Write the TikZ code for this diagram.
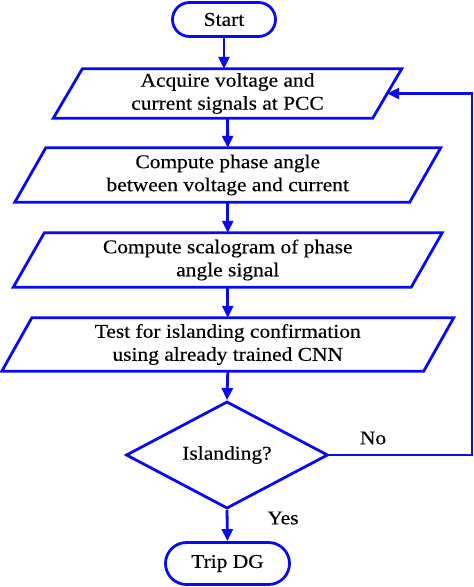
\documentclass[tikz,border=0pt]{standalone}
\usepackage{fontspec}
\setmainfont{Liberation Serif}[FakeStretch=1.1,FakeBold=0.3]
\usetikzlibrary{shapes.geometric,shapes.misc,arrows.meta}
\definecolor{fblue}{RGB}{10,10,240}
\begin{document}
\begin{tikzpicture}[x=1pt,y=1pt,
  every node/.style={font=\fontsize{19.5}{23}\selectfont, text=black, inner sep=0pt},
  flow/.style={draw=fblue, line width=2.8pt, -{Triangle[length=12pt,width=11pt]}},
  edge/.style={draw=fblue, line width=2.8pt, line join=miter},
  term/.style={rounded rectangle, draw=fblue, line width=2.8pt},
  boxtext/.style={rectangle, align=center},
  decision/.style={diamond, draw=fblue, line width=2.8pt, line join=miter}
]
\useasboundingbox (0,0) rectangle (474,-587);

\node[term, minimum width=103pt, minimum height=34pt] (start) at (224,-19.5) {Start};

\node[boxtext, minimum width=319pt, minimum height=49pt] (b1) at (227.5,-93.5) {Acquire voltage and\\current signals at PCC};
\draw[edge] ([xshift=14.5pt]b1.north west) -- ([xshift=14.5pt]b1.north east) -- ([xshift=-14.5pt]b1.south east) -- ([xshift=-14.5pt]b1.south west) -- cycle;

\node[boxtext, minimum width=394.5pt, minimum height=54pt] (b2) at (227.75,-175) {Compute phase angle\\between voltage and current};
\draw[edge] ([xshift=15.5pt]b2.north west) -- ([xshift=15.5pt]b2.north east) -- ([xshift=-15.5pt]b2.south east) -- ([xshift=-15.5pt]b2.south west) -- cycle;

\node[boxtext, minimum width=397.5pt, minimum height=54pt] (b3) at (227.75,-260) {Compute scalogram of phase\\angle signal};
\draw[edge] ([xshift=15.5pt]b3.north west) -- ([xshift=15.5pt]b3.north east) -- ([xshift=-15.5pt]b3.south east) -- ([xshift=-15.5pt]b3.south west) -- cycle;

\node[boxtext, minimum width=421.5pt, minimum height=53pt] (b4) at (227.75,-344.5) {Test for islanding confirmation\\using already trained CNN};
\draw[edge] ([xshift=15pt]b4.north west) -- ([xshift=15pt]b4.north east) -- ([xshift=-15pt]b4.south east) -- ([xshift=-15pt]b4.south west) -- cycle;

\node[decision, minimum width=202pt, minimum height=106pt] (dec) at (227,-455) {Islanding?};

\node[term, minimum width=124pt, minimum height=42pt] (trip) at (227.5,-563.5) {Trip DG};

\coordinate (loopc) at (472,0);

\draw[flow] (start.south) -- (start.south |- b1.north);
\draw[flow] (b1.south) -- (b2.north);
\draw[flow] (b2.south) -- (b3.north);
\draw[flow] (b3.south) -- (b4.north);
\draw[flow] (b4.south) -- (dec.north);
\draw[flow] (dec.south) -- (trip.north);
\draw[flow] (dec.east) -- (dec.east -| loopc) |- (b1.east);

\node (no) at (373,-438) {No};
\node (yes) at (283,-518) {Yes};
\end{tikzpicture}
\end{document}
